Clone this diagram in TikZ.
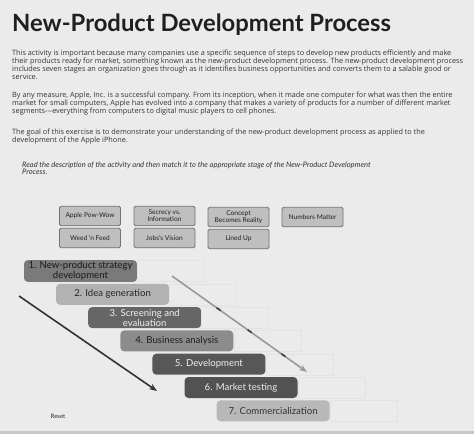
\documentclass[tikz,border=0pt]{standalone}
\usepackage{fontspec}
\setmainfont{Lato}
\newfontfamily\bodyfont{Open Sans}
\usetikzlibrary{arrows.meta,calc}

\begin{document}
\begin{tikzpicture}[x=1pt,y=-1pt,font=\bodyfont\fontsize{7.3}{7.8}\selectfont,
	stagebox/.style={rounded corners=4pt,minimum width=113pt,minimum height=21pt,align=center,inner sep=1.5pt,font=\fontsize{9.6}{10.2}\selectfont},
	actbox/.style={draw=black!55,fill=black!25,rounded corners=1.5pt,minimum width=61pt,minimum height=19.5pt,align=center,inner sep=1pt,line width=0.8pt,font=\fontsize{6.6}{7}\selectfont,text=black!88},
	dropzone/.style={draw=black!11,line width=0.3pt,minimum width=67pt,minimum height=21pt,inner sep=0pt},
	flowarrow/.style={line width=1.6pt,-{Stealth[length=8pt,width=6pt]}}]
				\fill[black!8] (0,0) rectangle (474,434);
				\useasboundingbox (0,0) rectangle (474,434);
				\fill[black!22] (0,431) rectangle (474,434);

				% heading and text
				\node[anchor=base west,inner sep=0pt,text=black!88,font=\bfseries\fontsize{23.8}{26}\selectfont] (title) at (12,31.5) {New-Product Development Process};
				\node[anchor=north west,align=left,inner sep=0pt,text=black!80] (para1) at (12,50) {This activity is important because many companies use a specific sequence of steps to develop new products efficiently and make\\their products ready for market, something known as the new-product development process. The new-product development process\\includes seven stages an organization goes through as it identifies business opportunities and converts them to a salable good or\\service.};
				\node[anchor=north west,align=left,inner sep=0pt,text=black!80] (para2) at (12,92) {By any measure, Apple, Inc. is a successful company. From its inception, when it made one computer for what was then the entire\\market for small computers, Apple has evolved into a company that makes a variety of products for a number of different market\\segments---everything from computers to digital music players to cell phones.};
				\node[anchor=north west,align=left,inner sep=0pt,text=black!80] (para3) at (12,128.5) {The goal of this exercise is to demonstrate your understanding of the new-product development process as applied to the\\development of the Apple iPhone.};
				\node[anchor=north west,align=left,inner sep=0pt,text=black!80,font=\itshape\fontsize{7.5}{7.4}\selectfont] (task) at (22,161.5) {Read the description of the activity and then match it to the appropriate stage of the New-Product Development\\Process.};

				% activities
				\node[actbox] (powwow) at (90,216) {Apple Pow-Wow};
				\node[actbox] (weed) at (90,238) {Weed 'n Feed};
				\node[actbox] (secrecy) at (164.5,216) {Secrecy vs.\\Information};
				\node[actbox] (vision) at (164.5,238) {Jobs's Vision};
				\node[actbox] (concept) at (238.5,217) {Concept\\Becomes Reality};
				\node[actbox] (linedup) at (238.5,239) {Lined Up};
				\node[actbox] (numbers) at (312.5,217) {Numbers Matter};

				% stages
				\foreach \lbl/\fc/\tc [count=\i from 0] in {
					{1. New-product strategy\\development}/black!52/black!90,{2. Idea generation}/black!30/black!85,{3. Screening and\\evaluation}/black!60/black!6,{4. Business analysis}/black!45/black!88,{5. Development}/black!66/black!6,{6. Market testing}/black!68/black!8,{7. Commercialization}/black!28/black!80}{
					\node[stagebox,fill=\fc,text=\tc] (s\i) at (80.5+32.1*\i,271+23.3*\i) {\lbl};
					\node[dropzone,anchor=west] (d\i) at (s\i.east) {};
				}

				% arrows
				\coordinate (la) at (19,296);
				\coordinate (lb) at (157,391);
				\coordinate (ra) at (172,276);
				\coordinate (rb) at (307,372);
				\draw[flowarrow,black!80] (la) -- (lb);
				\draw[flowarrow,black!40] (ra) -- (rb);
				\foreach \f in {0.33,0.56,0.81} {
					\draw[line width=1.6pt,black!75] ($(ra)!\f!(rb)$) -- ($(ra)!\f+0.03!(rb)$);
				}

				\node[text=black!85,font=\fontsize{6}{6.5}\selectfont] (reset) at (58,416) {Reset};
\end{tikzpicture}
\end{document}
